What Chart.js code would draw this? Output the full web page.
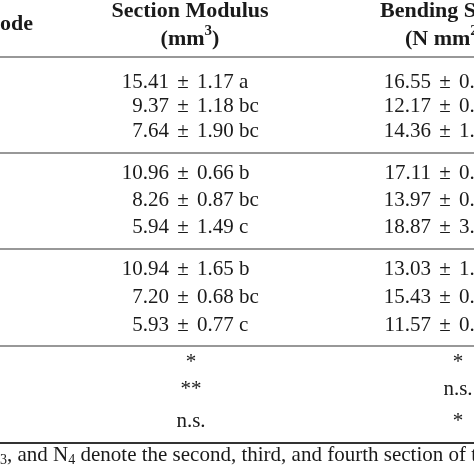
<!DOCTYPE html>
<html>
<head>
<meta charset="utf-8">
<script src="https://cdn.jsdelivr.net/npm/chart.js@4"></script>
<style>
  html, body { margin: 0; padding: 0; background: #fff; }
  #tbl { display: block; }
</style>
</head>
<body>
<canvas id="tbl" width="474" height="474"></canvas>
<script>
// --- Table content ---
const modulusMean = ['15.41', '9.37', '7.64', '10.96', '8.26', '5.94', '10.94', '7.20', '5.93'];
const modulusSd   = ['1.17 a', '1.18 bc', '1.90 bc', '0.66 b', '0.87 bc', '1.49 c', '1.65 b', '0.68 bc', '0.77 c'];
const bendingMean = ['16.55', '12.17', '14.36', '17.11', '13.97', '18.87', '13.03', '15.43', '11.57'];
const bendingSd   = ['0.92 a', '0.84 b', '1.25 ab', '0.71 a', '0.63 ab', '3.02 a', '1.12 b', '0.95 ab', '0.88 b'];
const modulusSig  = ['*', '**', 'n.s.'];
const bendingSig  = ['*', 'n.s.', '*'];

// row positions (table layout in scale units)
const valueRowsY = [82, 106, 131, 173, 200, 227, 269, 297, 325];
const sigRowsY   = [362, 389, 421];
const rulesY     = [57, 153, 249, 346];
const bottomRuleY = 443;

const serif = '"Liberation Serif", "DejaVu Serif", serif';

// draw text made of segments, some of them super/subscript
function drawRich(ctx, segs, x, y, size, weight, align) {
    const fontFor = s => `${weight} ${s.sup || s.sub ? Math.round(size * 0.68) : size}px ${serif}`;
    let total = 0;
    segs.forEach(s => { ctx.font = fontFor(s); total += ctx.measureText(s.t).width; });
    let cx = align === 'center' ? x - total / 2 : x;
    ctx.textAlign = 'left';
    segs.forEach(s => {
        ctx.font = fontFor(s);
        const dy = s.sup ? -size * 0.36 : (s.sub ? size * 0.25 : 0);
        ctx.fillText(s.t, cx, y + dy);
        cx += ctx.measureText(s.t).width;
    });
}

const tablePlugin = {
    id: 'tablePlugin',
    afterDraw(chart) {
        const ctx = chart.ctx;
        const xs = chart.scales.x, ys = chart.scales.y;
        const X = v => xs.getPixelForValue(v), Y = v => ys.getPixelForValue(v);
        ctx.save();
        ctx.fillStyle = '#1a1a1a';
        ctx.textBaseline = 'middle';

        // header
        drawRich(ctx, [{ t: 'ode' }], X(0), Y(24), 22, 'bold', 'left');
        drawRich(ctx, [{ t: 'Section Modulus' }], X(190), Y(11), 22, 'bold', 'center');
        drawRich(ctx, [{ t: '(mm' }, { t: '3', sup: true }, { t: ')' }], X(190), Y(39), 22, 'bold', 'center');
        drawRich(ctx, [{ t: 'Bending Stiffness' }], X(380), Y(11), 22, 'bold', 'left');
        drawRich(ctx, [{ t: '(N mm' }, { t: '2', sup: true }, { t: ')' }], X(405), Y(39), 22, 'bold', 'left');

        // rules
        ctx.strokeStyle = '#333';
        ctx.lineWidth = 1.2;
        rulesY.forEach(r => {
            ctx.beginPath(); ctx.moveTo(X(0), Y(r)); ctx.lineTo(X(474), Y(r)); ctx.stroke();
        });
        ctx.lineWidth = 1.8;
        ctx.beginPath(); ctx.moveTo(X(0), Y(bottomRuleY)); ctx.lineTo(X(474), Y(bottomRuleY)); ctx.stroke();

        // values, aligned on ±
        ctx.font = `21px ${serif}`;
        const pm = (mean, sd, xPm, y) => {
            ctx.textAlign = 'right'; ctx.fillText(mean, X(xPm - 14), Y(y));
            ctx.textAlign = 'center'; ctx.fillText('±', X(xPm), Y(y));
            ctx.textAlign = 'left'; ctx.fillText(sd, X(xPm + 14), Y(y));
        };
        valueRowsY.forEach((y, i) => {
            pm(modulusMean[i], modulusSd[i], 183, y);
            pm(bendingMean[i], bendingSd[i], 445, y);
        });

        // significance rows
        ctx.textAlign = 'center';
        sigRowsY.forEach((y, i) => {
            ctx.fillText(modulusSig[i], X(191), Y(y));
            ctx.fillText(bendingSig[i], X(458), Y(y));
        });

        // footnote
        drawRich(ctx, [{ t: '3', sub: true }, { t: ', and N' }, { t: '4', sub: true },
            { t: ' denote the second, third, and fourth section of the stem' }],
            X(0), Y(455), 21, 'normal', 'left');
        ctx.restore();
    }
};

new Chart(document.getElementById('tbl'), {
    type: 'scatter',
    data: { datasets: [] },
    options: {
        responsive: false,
        animation: false,
        layout: { padding: 0 },
        plugins: { legend: { display: false }, tooltip: { enabled: false } },
        scales: {
            x: { type: 'linear', min: 0, max: 474, display: false },
            y: { type: 'linear', min: 0, max: 474, reverse: true, display: false }
        }
    },
    plugins: [tablePlugin]
});
</script>
</body>
</html>
